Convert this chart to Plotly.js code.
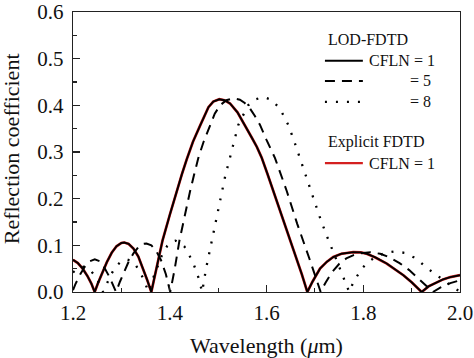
<!DOCTYPE html>
<html>
<head>
<meta charset="utf-8">
<script src="https://cdn.plot.ly/plotly-3.0.1.min.js"></script>
<style>html,body{margin:0;padding:0;background:#fff;}#chart{width:474px;height:358px;}</style>
</head>
<body>
<div id="chart"></div>
<script>
// ---- data ----
const lod1X = [1.200,1.210,1.220,1.230,1.238,1.2448,1.252,1.260,1.270,1.280,1.290,1.300,1.306,1.315,1.325,1.335,1.345,1.353,1.3619,
  1.373,1.385,1.400,1.414,1.425,1.435,1.448,1.4625,1.472,1.480,1.490,1.5025,1.513,1.5246,1.540,1.5556,1.570,1.580,1.590,1.602,1.614,1.626,1.638,1.650,1.661,1.673,1.6844,
  1.695,1.7106,1.725,1.738,1.755,1.7794,1.795,1.807,1.825,1.8485,1.865,1.883,1.900,1.912,1.9207,1.935,1.950,1.965,1.980,2.000];
const lod1Y = [0.069,0.062,0.050,0.034,0.018,0.000,0.020,0.041,0.064,0.084,0.098,0.105,0.106,0.103,0.093,0.076,0.050,0.027,0.000,
  0.055,0.110,0.165,0.216,0.252,0.284,0.322,0.356,0.379,0.396,0.408,0.413,0.411,0.404,0.385,0.358,0.330,0.311,0.288,0.253,0.217,0.181,0.146,0.110,0.076,0.038,0.000,
  0.022,0.050,0.065,0.075,0.082,0.0855,0.085,0.082,0.074,0.061,0.049,0.036,0.021,0.010,0.000,0.012,0.020,0.027,0.032,0.036];

const lod5X = [1.200,1.205,1.215,1.225,1.235,1.245,1.255,1.265,1.275,1.283,1.289,
  1.297,1.305,1.315,1.325,1.335,1.345,1.352,1.362,1.372,1.382,1.392,1.401,
  1.410,1.420,1.431,1.442,1.450,1.459,1.470,1.483,1.493,1.504,1.517,1.531,1.545,1.555,1.566,1.576,1.5866,1.600,1.6176,1.642,1.6635,1.6875,1.712,
  1.722,1.735,1.750,1.765,1.780,1.795,1.815,1.835,1.855,1.875,1.895,1.910,1.925,1.944,1.960,1.980,2.000];
const lod5Y = [0.004,0.017,0.038,0.055,0.066,0.070,0.066,0.052,0.033,0.015,0.000,
  0.022,0.042,0.065,0.083,0.096,0.103,0.104,0.100,0.088,0.068,0.038,0.000,
  0.048,0.110,0.165,0.216,0.250,0.287,0.322,0.358,0.382,0.400,0.411,0.415,0.412,0.405,0.393,0.377,0.358,0.326,0.287,0.216,0.146,0.075,0.000,
  0.020,0.042,0.060,0.072,0.079,0.083,0.085,0.082,0.074,0.062,0.047,0.033,0.018,0.000,0.010,0.019,0.025];

const lod8X = [1.200,1.210,1.222,1.235,1.245,1.255,1.262,
  1.270,1.280,1.290,1.300,1.310,1.320,1.330,1.340,1.348,1.356,
  1.365,1.375,1.385,1.395,1.405,1.412,1.420,1.430,1.440,1.450,1.459,1.467,
  1.475,1.485,1.495,1.505,1.515,1.525,1.5417,1.562,1.575,1.593,1.610,1.628,1.645,1.657,1.669,1.680,1.700,1.712,1.724,1.735,1.747,1.758,1.768,1.771,
  1.780,1.7968,1.810,1.825,1.845,1.865,1.885,1.905,1.920,1.931,1.952,1.972,1.986,2.000];
const lod8Y = [0.042,0.050,0.054,0.048,0.035,0.017,0.000,
  0.019,0.040,0.056,0.066,0.070,0.067,0.057,0.040,0.022,0.000,
  0.028,0.057,0.082,0.099,0.108,0.110,0.106,0.098,0.080,0.058,0.032,0.000,
  0.050,0.100,0.150,0.200,0.250,0.290,0.358,0.400,0.412,0.418,0.412,0.393,0.358,0.324,0.287,0.252,0.190,0.155,0.122,0.093,0.062,0.033,0.008,0.000,
  0.022,0.050,0.064,0.075,0.084,0.087,0.084,0.074,0.062,0.052,0.036,0.020,0.010,0.001];

const explicitX = lod1X.slice();
const explicitY = [0.069,0.062,0.050,0.034,0.018,0.000,0.020,0.041,0.064,0.084,0.098,0.105,0.106,0.103,0.093,0.076,0.050,0.027,0.000,
  0.055,0.110,0.165,0.216,0.252,0.284,0.322,0.356,0.379,0.396,0.408,0.413,0.411,0.404,0.385,0.358,0.330,0.311,0.288,0.253,0.217,0.181,0.146,0.110,0.076,0.038,0.000,
  0.022,0.050,0.065,0.075,0.082,0.0855,0.085,0.082,0.074,0.061,0.049,0.036,0.021,0.010,0.000,0.012,0.020,0.027,0.032,0.036];

const xTicks = [1.2,1.4,1.6,1.8,2.0];
const yTicks = [0.0,0.1,0.2,0.3,0.4,0.5,0.6];
const legendGroups = ['LOD-FDTD','Explicit FDTD'];
const seriesNames = ['CFLN = 1','= 5','= 8','CFLN = 1'];
const xTitle = 'Wavelength (<i>μ</i>m)';
const yTitle = 'Reflection coefficient';

// ---- chart ----
const FONT = 'Liberation Serif';
const DASH5 = '10px,7px';
const DOT8 = '2px,9px';

const traces = [
  {x: explicitX, y: explicitY, mode:'lines', name: seriesNames[3], line:{color:'#d42020', width:2.7}},
  {x: lod8X, y: lod8Y, mode:'lines', name: seriesNames[2], line:{color:'#000', width:2.3, dash:DOT8}},
  {x: lod5X, y: lod5Y, mode:'lines', name: seriesNames[1], line:{color:'#000', width:2, dash:DASH5}},
  {x: lod1X, y: lod1Y, mode:'lines', name: seriesNames[0], line:{color:'#000', width:1.9}}
];

// legend drawn manually (paper coordinates)
const lx0 = 0.651, lx1 = 0.749;
const rows = {g1:0.902, s1:0.826, s5:0.754, s8:0.679, g2:0.535, e1:0.460};
const shapes = [
  {type:'line', xref:'paper', yref:'paper', x0:lx0, x1:lx1, y0:rows.s1, y1:rows.s1, line:{color:'#000', width:2}},
  {type:'line', xref:'paper', yref:'paper', x0:lx0, x1:lx1, y0:rows.s5, y1:rows.s5, line:{color:'#000', width:2, dash:DASH5}},
  {type:'line', xref:'paper', yref:'paper', x0:lx0, x1:lx1, y0:rows.s8, y1:rows.s8, line:{color:'#000', width:2.3, dash:DOT8}},
  {type:'line', xref:'paper', yref:'paper', x0:lx0, x1:lx1, y0:rows.e1, y1:rows.e1, line:{color:'#d42020', width:2.2}}
];
const lf = {family: FONT, size: 16, color:'#111'};
const annotations = [
  {text: legendGroups[0], x: 0.654, y: rows.g1, xanchor:'left'},
  {text: seriesNames[0], x: 0.760, y: rows.s1, xanchor:'left'},
  {text: seriesNames[1], x: 0.930, y: rows.s5, xanchor:'right'},
  {text: seriesNames[2], x: 0.930, y: rows.s8, xanchor:'right'},
  {text: legendGroups[1], x: 0.654, y: rows.g2, xanchor:'left'},
  {text: seriesNames[3], x: 0.760, y: rows.e1, xanchor:'left'}
].map(a => Object.assign({xref:'paper', yref:'paper', yanchor:'middle', showarrow:false, font:lf}, a));
// y-axis title as a rotated annotation (placed further left than Plotly's minimum standoff allows)
annotations.push({text: yTitle, xref:'paper', yref:'paper', x:-0.160, y:0.51, xanchor:'center', yanchor:'middle',
  textangle:-90, showarrow:false, font:{family: FONT, size:22, color:'#111'}});

const axisCommon = {
  showgrid:false, zeroline:false, showline:true, mirror:true, linecolor:'#222', linewidth:1.4,
  ticks:'inside', ticklen:7, tickwidth:1.2, tickcolor:'#222',
  tickfont:{family: FONT, size: 21, color:'#111'}, tickformat:'.1f',
  ticklabeloverflow:'allow'
};

const layout = {
  width:474, height:358,
  margin:{l:73, r:14, t:12, b:66},
  paper_bgcolor:'#fff', plot_bgcolor:'#fff',
  showlegend:false,
  font:{family: FONT, color:'#111'},
  xaxis: Object.assign({}, axisCommon, {
    range:[1.2, 2.0], tickvals: xTicks, ticklabelstandoff: 1,
    minor:{ticks:'inside', ticklen:4, dtick:0.1, tick0:1.2, tickcolor:'#222', showgrid:false},
    title:{text: xTitle, font:{family: FONT, size:22, color:'#111'}, standoff:15}
  }),
  yaxis: Object.assign({}, axisCommon, {
    range:[0, 0.6], tickvals: yTicks, ticklabelstandoff: 4,
    minor:{ticks:'inside', ticklen:4, dtick:0.05, tick0:0, tickcolor:'#222', showgrid:false}
  }),
  shapes: shapes,
  annotations: annotations
};

Plotly.newPlot('chart', traces, layout, {displayModeBar:false, staticPlot:true});
</script>
</body>
</html>
